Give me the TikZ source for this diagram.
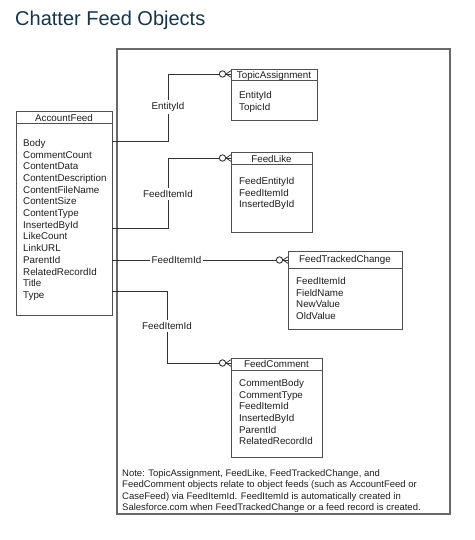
\documentclass[tikz,border=0pt]{standalone}
\usepackage{fontspec}
\setmainfont{Liberation Sans}
\definecolor{titlecol}{RGB}{24,52,72}
\definecolor{boxcol}{RGB}{80,80,80}
\definecolor{framecol}{RGB}{105,105,105}
\definecolor{txtcol}{RGB}{30,30,30}
\begin{document}
\begin{tikzpicture}[x=1pt,y=-1pt,
  entbox/.style={draw=boxcol,line width=1pt,fill=white},
  hdr/.style={font=\fontsize{9.8}{11.7}\selectfont,text=txtcol,inner sep=0pt},
  attrs/.style={font=\fontsize{9.8}{11.7}\selectfont,text=txtcol,align=left,anchor=north west,inner sep=0pt},
  conn/.style={draw=black!80,line width=0.9pt},
  lbl/.style={font=\fontsize{9.8}{11.7}\selectfont,text=txtcol,fill=white,inner sep=2pt}]
\useasboundingbox (0,0) rectangle (474,540);
% title
\node[anchor=base west,inner sep=0pt,text=titlecol,font=\fontsize{20}{24}\selectfont] (title) at (15,26) {Chatter Feed Objects};
% frame
\draw[framecol,line width=1.2pt] (117,49) rectangle (450,514);
% note
\node[anchor=north west,inner sep=0pt,align=left,text=txtcol,font=\fontsize{9.5}{11.6}\selectfont] (note) at (122,469)
 {Note: TopicAssignment, FeedLike, FeedTrackedChange, and\\
  FeedComment objects relate to object feeds (such as AccountFeed or\\
  CaseFeed) via FeedItemId. FeedItemId is automatically created in\\
  Salesforce.com when FeedTrackedChange or a feed record is created.};
% AccountFeed
\draw[entbox] (16,112) rectangle (112,315);
\draw[entbox] (16,124) -- (112,124);
\node[hdr] (afh) at (64,118) {AccountFeed};
\node[attrs] (afa) at (23,139) {Body\\CommentCount\\ContentData\\ContentDescription\\ContentFileName\\ContentSize\\ContentType\\InsertedById\\LikeCount\\LinkURL\\ParentId\\RelatedRecordId\\Title\\Type};
% TopicAssignment
\draw[entbox] (231,70) rectangle (317,121);
\draw[entbox] (231,81) -- (317,81);
\node[hdr] (tah) at (274,75.5) {TopicAssignment};
\node[attrs] (taa) at (239,91) {EntityId\\TopicId};
% FeedLike
\draw[entbox] (231,153) rectangle (312,232);
\draw[entbox] (231,165) -- (312,165);
\node[hdr] (flh) at (271.5,159) {FeedLike};
\node[attrs] (fla) at (239,177) {FeedEntityId\\FeedItemId\\InsertedById};
% FeedTrackedChange
\draw[entbox] (288,251) rectangle (402,329);
\draw[entbox] (288,268) -- (402,268);
\node[hdr] (fth) at (345,259.5) {FeedTrackedChange};
\node[attrs] (fta) at (296,277) {FeedItemId\\FieldName\\NewValue\\OldValue};
% FeedComment
\draw[entbox] (231,358) rectangle (322,457);
\draw[entbox] (231,370) -- (322,370);
\node[hdr] (fch) at (276.5,364) {FeedComment};
\node[attrs] (fca) at (239,379) {CommentBody\\CommentType\\FeedItemId\\InsertedById\\ParentId\\RelatedRecordId};
% connector end coordinates
\coordinate (s1) at (112,141);
\coordinate (e1) at (231,74);
\coordinate (s2) at (112,228);
\coordinate (e2) at (231,158);
\coordinate (s3) at (112,260);
\coordinate (e3) at (288,260);
\coordinate (s4) at (112,291);
\coordinate (e4) at (231,363);
% connectors
\draw[conn] (s1) -| (168,74) -- ([xshift=-8.5]e1);
\draw[conn] (s2) -| (168,158) -- ([xshift=-8.5]e2);
\draw[conn] (s3) -- ([xshift=-8.5]e3);
\draw[conn] (s4) -| (167,363) -- ([xshift=-8.5]e4);
% crow's feet
\foreach \e in {e1,e2,e3,e4}{
  \draw[conn,fill=white] ([xshift=-8.5]\e) circle[radius=3.2];
  \draw[conn,line width=0.75pt] ([xshift=-5]\e) -- ([yshift=-3.3]\e);
  \draw[conn,line width=0.75pt] ([xshift=-5]\e) -- (\e);
  \draw[conn,line width=0.75pt] ([xshift=-5]\e) -- ([yshift=3.3]\e);
}
% labels
\node[lbl] (l1) at (168,107) {EntityId};
\node[lbl] (l2) at (168,194) {FeedItemId};
\node[lbl] (l3) at (176.5,260) {FeedItemId};
\node[lbl] (l4) at (167,326) {FeedItemId};
\end{tikzpicture}
\end{document}
